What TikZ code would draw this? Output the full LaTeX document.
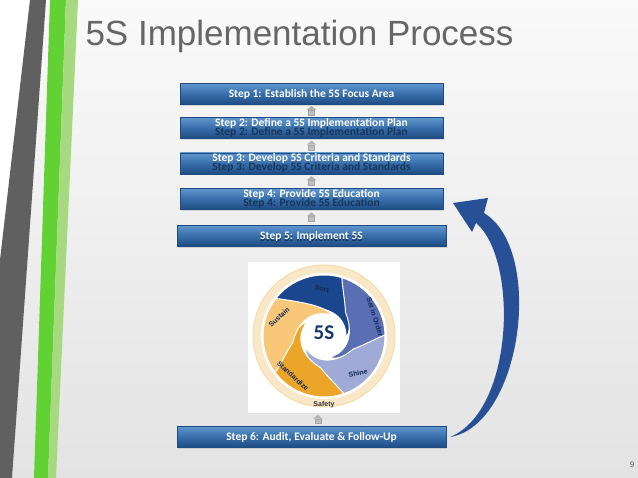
\documentclass[tikz,border=0pt]{standalone}
\usepackage{fontspec}
\setmainfont{Liberation Sans}
\newfontfamily\carfont{Carlito}
\usetikzlibrary{shadows}
\definecolor{bxtop}{RGB}{95,150,205}
\definecolor{bxmid}{RGB}{55,110,170}
\definecolor{bxbot}{RGB}{30,75,130}
\definecolor{sortc}{RGB}{25,70,140}
\definecolor{setc}{RGB}{90,110,180}
\definecolor{shinec}{RGB}{160,170,215}
\definecolor{stdc}{RGB}{235,165,40}
\definecolor{susc}{RGB}{248,200,120}
\definecolor{ringc}{RGB}{248,232,200}
\definecolor{arrc}{RGB}{40,80,150}
\begin{document}
\begin{tikzpicture}[x=1pt,y=-1pt,
  stepbox/.style={draw=bxbot,line width=0.4pt,minimum height=21pt,top color=bxtop,bottom color=bxbot,middle color=bxmid,inner sep=0pt,drop shadow={opacity=0.25,shadow xshift=1pt,shadow yshift=-1.5pt}},
  steptext/.style={font=\carfont\bfseries\fontsize{11.5}{13}\selectfont,text=white},
  ghost/.style={font=\carfont\bfseries\fontsize{11.5}{13}\selectfont,text=bxbot!70!black},
  link/.style={fill=gray!50,draw=gray!70,line width=0.3pt},
  petal/.style={draw=white,line width=1pt}]
\useasboundingbox (0,0) rectangle (638,478);
\shade[top color=gray!4,bottom color=gray!22] (0,0) rectangle (638,478);
% left stripes
\fill[white] (0,0) -- (30,0) -- (0,300) -- cycle;
\fill[gray!75!black] (30,0) -- (46,0) -- (12,478) -- (0,478) -- (0,260) -- cycle;
\fill[green!55!olive!80] (50,0) -- (66,0) -- (48,478) -- (34,478) -- cycle;
\fill[green!40!olive!50] (66,0) -- (78,0) -- (56,478) -- (48,478) -- cycle;
\node[anchor=west,text=gray!80!black,font=\fontsize{35}{40}\selectfont] (title) at (82,36) {5S Implementation Process};
% steps
\node[stepbox,minimum width=263pt] (s1) at (311.5,94) {};
\node[stepbox,minimum width=263pt] (s2) at (311.5,128) {};
\node[stepbox,minimum width=263pt] (s3) at (311.5,163.5) {};
\node[stepbox,minimum width=263pt] (s4) at (311.5,199) {};
\node[stepbox,minimum width=269pt] (s5) at (311.5,236) {};
\node[stepbox,minimum width=269pt] (s6) at (311.5,437) {};
\node[steptext] (t1) at (s1) {Step 1: Establish the 5S Focus Area};
\node[ghost] (g2) at ([yshift=-4pt]s2.center) {Step 2: Define a 5S Implementation Plan};
\node[steptext] (t2) at ([yshift=5pt]s2.center) {Step 2: Define a 5S Implementation Plan};
\node[ghost] (g3) at ([yshift=-4pt]s3.center) {Step 3: Develop 5S Criteria and Standards};
\node[steptext] (t3) at ([yshift=5pt]s3.center) {Step 3: Develop 5S Criteria and Standards};
\node[ghost] (g4) at ([yshift=-4pt]s4.center) {Step 4: Provide 5S Education};
\node[steptext] (t4) at ([yshift=5pt]s4.center) {Step 4: Provide 5S Education};
\node[ghost] (g5) at ([yshift=-2pt]s5.center) {Step 5: Implement 5S};
\node[steptext] (t5) at (s5) {Step 5: Implement 5S};
\node[steptext] (t6) at (s6) {Step 6: Audit, Evaluate \& Follow-Up};
% small connectors
\foreach \a/\b in {s1/s2,s2/s3,s3/s4,s4/s5}{
  \path (\a.south) -- (\b.north) coordinate[pos=0.5] (m);
  \fill[link] ([xshift=-3pt,yshift=-4pt]m) rectangle ([xshift=3pt,yshift=1pt]m);
  \fill[gray!60] ([xshift=-5pt,yshift=1pt]m) -- ([xshift=5pt,yshift=1pt]m) -- ([yshift=5pt]m) -- cycle;
}
% picture
\node[fill=white,minimum width=152pt,minimum height=151pt,inner sep=0pt] (pic) at (324,337.5) {};
\path (pic.south) -- (s6.north) coordinate[pos=0.5] (m6);
\fill[link] ([xshift=-3pt,yshift=-3pt]m6) rectangle ([xshift=3pt,yshift=1pt]m6);
\fill[gray!60] ([xshift=-5pt,yshift=1pt]m6) -- ([xshift=5pt,yshift=1pt]m6) -- ([yshift=5pt]m6) -- cycle;
\begin{scope}[shift={(324,336)},y=1pt]
\fill[ringc,draw=stdc!40,line width=1pt] (0,0) circle (71);
\fill[white] (0,0) circle (63);
\foreach \r/\c in {90/sortc,18/setc,-54/shinec,-126/stdc,162/susc}{
  \fill[\c,petal] (\r+55:61) arc[start angle=\r+55,end angle=\r-20,radius=61]
    .. controls (\r-40:40) and (\r-75:30) .. (\r-95:22)
    .. controls (\r-50:30) and (\r-10:30) .. (\r+30:32)
    .. controls (\r+40:40) and (\r+50:50) .. cycle;
}
\fill[white] (0,0) circle (21);
\end{scope}
\node[font=\carfont\bfseries\fontsize{21}{23}\selectfont,text=sortc!80!black] (five) at (324,333) {5S};
\tikzset{lab/.style={font=\bfseries\fontsize{7}{8}\selectfont,text=sortc!60!black}}
\node[lab,rotate=-12] (l1) at (322,289) {Sort};
\node[lab,rotate=-72] (l2) at (375,317) {Set in Order};
\node[lab,rotate=12] (l3) at (358,373) {Shine};
\node[lab,rotate=-42] (l4) at (293,376) {Standardize};
\node[lab,rotate=42] (l5) at (279,317) {Sustain};
\node[lab,text=black!80] (l6) at (324,405) {Safety};
% return arrow
\coordinate (a0) at ([xshift=4pt]s6.east);
\coordinate (tip) at (453,203);
\fill[arrc] (a0) .. controls (522,425) and (545,250) .. (484,213)
  -- (488,198) -- (tip) -- (472,232) -- (476,223)
  .. controls (518,258) and (515,410) .. (a0);
\node[text=gray!70!black,font=\fontsize{8}{9}\selectfont] (pg) at (632,465) {9};
\end{tikzpicture}
\end{document}
